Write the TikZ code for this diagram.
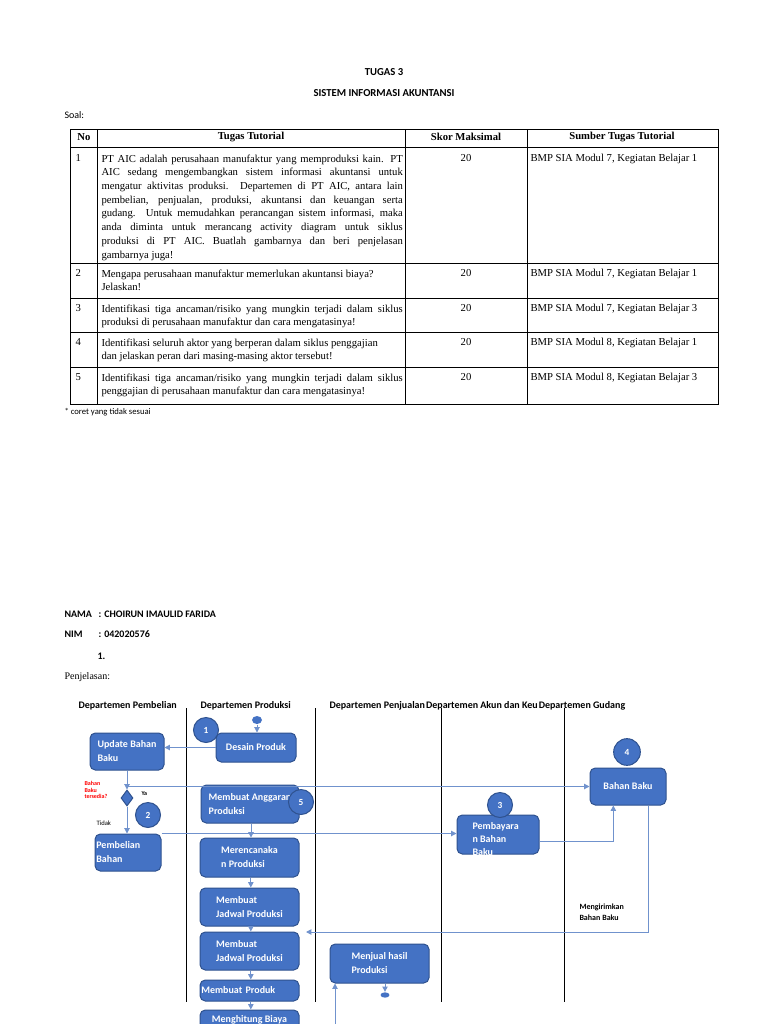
\documentclass[tikz,border=0pt]{standalone}
\usepackage{fontspec}
\setmainfont{Carlito}
\newfontfamily\tabfont{Liberation Serif}
\usetikzlibrary{arrows.meta,shapes.geometric,positioning}

\newcommand{\jl}[1]{\makebox[226pt][s]{#1}}

\tikzset{every picture/.style={line width=0.75pt}}
\tikzset{
  judul/.style={font=\fontsize{8}{10}\selectfont\bfseries, inner sep=0pt},
  isi/.style={font=\tabfont\fontsize{8}{10.3}\selectfont, inner sep=0pt, anchor=north west, align=left},
  kepala/.style={font=\tabfont\fontsize{8}{10}\selectfont\bfseries, inner sep=0pt},
  lajur/.style={font=\fontsize{7.5}{9}\selectfont\bfseries, inner sep=0pt, anchor=west},
  blok/.style={draw={rgb, 255:red, 47; green, 82; blue, 143 }, fill={rgb, 255:red, 68; green, 114; blue, 196 }, rounded corners=4pt, text=white, font=\fontsize{7.5}{10.5}\selectfont\bfseries, align=left, inner sep=1pt},
  blokteks/.style={text=white, font=\fontsize{7.5}{9.75}\selectfont\bfseries, align=left, inner sep=0pt, anchor=north west},
  nomor/.style={circle, draw={rgb, 255:red, 47; green, 82; blue, 143 }, fill={rgb, 255:red, 68; green, 114; blue, 196 }, text=white, font=\fontsize{7}{8}\selectfont\bfseries, minimum size=18.75pt, inner sep=0pt},
  titik/.style={ellipse, fill={rgb, 255:red, 68; green, 114; blue, 196 }, inner sep=0pt},
  keputusan/.style={diamond, fill={rgb, 255:red, 68; green, 114; blue, 196 }, draw={rgb, 255:red, 47; green, 82; blue, 143 }, minimum width=9pt, minimum height=12pt, inner sep=0pt},
  alur/.style={draw={rgb, 255:red, 112; green, 146; blue, 205 }, line width=0.75pt, -{Triangle[length=4pt,width=4pt]}},
  kecil/.style={font=\fontsize{4.5}{5}\selectfont\bfseries, inner sep=0pt, anchor=west},
}

\begin{document}
\begin{tikzpicture}[x=0.75pt,y=0.75pt,yscale=-1,xscale=1]
\useasboundingbox (0,0) rectangle (768,1024);
\fill[white] (0,0) rectangle (768,1024);
\clip (0,0) rectangle (768,1024);

%Text Node
\node[judul] (tugas) at (384,72) {TUGAS 3};
\node[judul] (sia) at (384,93) {SISTEM INFORMASI AKUNTANSI};
\node[judul, anchor=west, font=\fontsize{7.5}{9}\selectfont] (soal) at (64,115) {Soal:};

%Table
\draw (70,129) rectangle (718,404);
\foreach \y in {147,263,298,332,367} \draw (70,\y) -- (718,\y);
\foreach \x in {97,405,527} \draw (\x,129) -- (\x,404);

\node[kepala] (hno) at (84,137) {No};
\node[kepala] (htugas) at (251,137) {Tugas Tutorial};
\node[kepala] (hskor) at (466,137) {Skor Maksimal};
\node[kepala] (hsumber) at (622,137) {Sumber Tugas Tutorial};

\foreach \n/\y/\m/\k in {1/154/7/1, 2/269/7/1, 3/304/7/3, 4/338/8/1, 5/373/8/3} {
  \node[isi] (no\n) at (75,\y) {\n};
  \node[isi, anchor=north] (skor\n) at (466,\y) {20};
  \node[isi] (sumber\n) at (530,\y) {BMP SIA Modul \m, Kegiatan Belajar \k};
}

\node[isi] (tugas1) at (101,154) {\jl{PT AIC adalah perusahaan manufaktur yang memproduksi kain. PT}\\
\jl{AIC sedang mengembangkan sistem informasi akuntansi untuk}\\
\jl{mengatur aktivitas produksi. Departemen di PT AIC, antara lain}\\
\jl{pembelian, penjualan, produksi, akuntansi dan keuangan serta}\\
\jl{gudang. Untuk memudahkan perancangan sistem informasi, maka}\\
\jl{anda diminta untuk merancang activity diagram untuk siklus}\\
\jl{produksi di PT AIC. Buatlah gambarnya dan beri penjelasan}\\
gambarnya juga!};
\node[isi] (tugas2) at (101,269) {Mengapa perusahaan manufaktur memerlukan akuntansi biaya?\\Jelaskan!};
\node[isi] (tugas3) at (101,304) {\jl{Identifikasi tiga ancaman/risiko yang mungkin terjadi dalam siklus}\\produksi di perusahaan manufaktur dan cara mengatasinya!};
\node[isi] (tugas4) at (101,338) {Identifikasi seluruh aktor yang berperan dalam siklus penggajian\\dan jelaskan peran dari masing-masing aktor tersebut!};
\node[isi] (tugas5) at (101,373) {\jl{Identifikasi tiga ancaman/risiko yang mungkin terjadi dalam siklus}\\penggajian di perusahaan manufaktur dan cara mengatasinya!};

\node[anchor=west, inner sep=0pt, font=\fontsize{6.5}{8}\selectfont] (coret) at (64,412) {* coret yang tidak sesuai};

%Identity
\node[lajur] (nama) at (64,614) {\makebox[25.5pt][l]{NAMA}: CHOIRUN IMAULID FARIDA};
\node[lajur] (nim) at (64,634) {\makebox[25.5pt][l]{NIM}: 042020576};
\node[lajur] (satu) at (97,656) {1.};
\node[anchor=west, inner sep=0pt, font=\tabfont\fontsize{7.5}{9}\selectfont] (penjelasan) at (64,677) {Penjelasan:};

%Swimlanes
\foreach \x in {186,315,441,564} \draw (\x,708) -- (\x,1002);
\node[lajur] (hbeli) at (78,706) {Departemen Pembelian};
\node[lajur] (hprod) at (200,706) {Departemen Produksi};
\node[lajur] (hjual) at (329,706) {Departemen Penjualan};
\node[lajur, right=0pt of hjual] (hakun) {Departemen Akun dan Keu};
\node[lajur, right=0pt of hakun] (hgudang) {Departemen Gudang};

%Rounded Rect
\node[titik, minimum width=7.5pt, minimum height=6pt] (mulai) at (257,720) {};
\node[blok, minimum width=60pt, minimum height=21.75pt] (desain) at (256,747.5) {Desain Produk};
\node[blok, minimum width=55.5pt, minimum height=27.75pt] (updbb) at (127,751.5) {Update Bahan\\Baku};
\node[keputusan] (cek) at (127,798) {};
\node[blok, minimum width=49.5pt, minimum height=27.75pt, text width=47.5pt] (beli) at (128,852.5) {Pembelian\\Bahan};
\node[blok, minimum width=73.5pt, minimum height=28.5pt] (anggaran) at (250,804) {Membuat Anggaran\\Produksi};
\node[blok, minimum width=74.25pt, minimum height=29.25pt] (rencana) at (249.5,857.5) {Merencanaka\\n Produksi};
\node[blok, minimum width=74.25pt, minimum height=28.5pt] (jadwalA) at (249.5,907) {Membuat\\Jadwal Produksi};
\node[blok, minimum width=74.25pt, minimum height=28.5pt] (jadwalB) at (249.5,951) {Membuat\\Jadwal Produksi};
\node[blok, minimum width=74.25pt, minimum height=15.75pt, text width=72.25pt] (produk) at (249.5,990.5) {Membuat Produk};
\node[blok, minimum width=74.25pt, minimum height=14.25pt] (hitung) at (249.5,1019.5) {Menghitung Biaya};
\node[blok, minimum width=74.25pt, minimum height=29.25pt] (jual) at (379.5,963.5) {Menjual hasil\\Produksi};
\node[titik, minimum width=6.75pt, minimum height=4pt] (selesai) at (385,995) {};
\node[blok, minimum width=61.5pt, minimum height=29.25pt] (bayar) at (498,834.5) {};
\node[blokteks] (bayarteks) at (472,822) {Pembayara\\n Bahan\\Baku};
\node[blok, minimum width=57pt, minimum height=27.75pt] (bahanbaku) at (628,786.5) {Bahan Baku};

%Text Node
\node[kecil, anchor=north west, align=left, text={rgb, 255:red, 255; green, 0; blue, 0 }, font=\fontsize{4.5}{4.9}\selectfont\bfseries] (tanya) at (84,781) {Bahan\\Baku\\tersedia?};
\node[kecil] (ya) at (141,794) {Ya};
\node[kecil, font=\fontsize{5}{6}\selectfont] (tidak) at (96,823) {Tidak};
\node[kecil, align=left, font=\fontsize{6}{8.25}\selectfont\bfseries] (kirimteks) at (579,912.5) {Mengirimkan\\Bahan Baku};

%Straight Lines
\coordinate (cabang) at (updbb.south |- bahanbaku.west);
\coordinate (kirim) at (306,932);
\coordinate (naik) at (335,1030);
\draw[alur] (mulai.south) -- (mulai.south |- desain.north);
\draw[alur] (desain.west) -- (desain.west -| updbb.east);
\draw[alur] (updbb.south) |- (bahanbaku.west);
\draw[alur] (cabang) -- (cek.north);
\draw[alur] (cek.south) -- (cek.south |- beli.north);
\draw[alur] (beli.north east) -- (beli.north east -| bayar.west);
\draw[alur] ([xshift=0.75pt]anggaran.south) -- ([xshift=0.75pt]anggaran.south |- rencana.north);
\draw[alur] ([xshift=1pt]rencana.south) -- ([xshift=1pt]jadwalA.north);
\draw[alur] ([xshift=1pt]jadwalA.south) -- ([xshift=1pt]jadwalB.north);
\draw[alur] ([xshift=1pt]jadwalB.south) -- ([xshift=1pt]produk.north);
\draw[alur] ([xshift=1pt]produk.south) -- ([xshift=1pt]hitung.north);
\draw[alur] ([yshift=4.9pt]bayar.east) -| ([xshift=-11pt]bahanbaku.south);
\draw[alur] ([xshift=15pt]bahanbaku.south) |- (kirim);
\draw[alur] (selesai |- jual.south) -- (selesai.north);
\draw[alur] (naik) -- (naik |- jual.south);

%Shape: Circle
\node[nomor] (n1) at (206,730) {1};
\node[nomor] (n2) at (148,815) {2};
\node[nomor] (n3) at (500,805) {3};
\node[nomor, minimum size=20pt] (n4) at (627,752) {4};
\node[nomor] (n5) at (301,802) {5};

\end{tikzpicture}
\end{document}
